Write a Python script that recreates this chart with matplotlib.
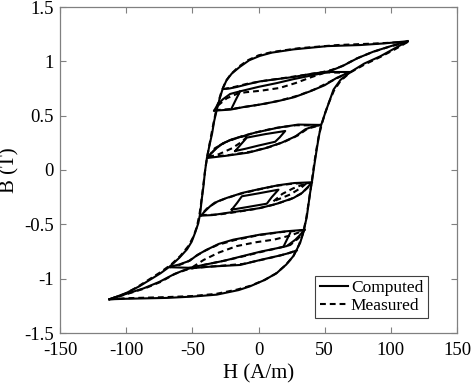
import matplotlib
matplotlib.use('Agg')
import matplotlib.pyplot as plt

plt.rcParams['font.family'] = ['Liberation Serif', 'DejaVu Serif']
plt.rcParams['axes.unicode_minus'] = False

# --- major loop (H in A/m, B in T) ---
major_desc_c = [(112.7, 1.185), (95, 1.165), (77, 1.15), (52, 1.14), (26.5, 1.11), (10, 1.08), (1, 1.05),
                (-7, 1.01), (-14, 0.95), (-20, 0.89), (-24, 0.83), (-27, 0.75), (-29.5, 0.65), (-31.5, 0.555),
                (-33.5, 0.45), (-35, 0.34), (-37, 0.23), (-39, 0.11), (-40.5, -0.02), (-41.6, -0.15),
                (-43, -0.28), (-44, -0.395), (-45.5, -0.49), (-48, -0.58), (-50.5, -0.66), (-54, -0.73),
                (-60, -0.81), (-66.8, -0.886), (-74, -0.95), (-82, -1.01), (-90, -1.07), (-99.6, -1.13),
                (-107, -1.165), (-112.7, -1.19)]
major_asc_c = [(-112.7, -1.19), (-100, -1.185), (-69, -1.177), (-50, -1.165), (-31.5, -1.147), (-15, -1.105),
               (-6.3, -1.07), (5, -1.01), (13.9, -0.947), (21, -0.87), (26.5, -0.79), (31.5, -0.67),
               (34, -0.57), (36.5, -0.43), (39, -0.21), (40.5, -0.10), (42, 0.03), (44, 0.19), (45.5, 0.30),
               (47, 0.40), (50.4, 0.525), (53.5, 0.63), (56.7, 0.74), (62, 0.83), (69.3, 0.90), (80, 0.98),
               (92, 1.046), (103, 1.12), (112.7, 1.185)]

# --- band 1 (B ~ 0.55 .. 0.9) ---
b1_tip_c = [(112.7, 1.185), (100, 1.14), (87, 1.09), (75, 1.03), (64, 0.96), (57, 0.925), (52, 0.905),
            (40, 0.885), (26.5, 0.856), (10, 0.83), (1.3, 0.816), (-8, 0.79), (-16.4, 0.764), (-22, 0.75),
            (-26.5, 0.745)]
b1_flat_c = [(69.3, 0.90), (52, 0.90)]
b1_x_c = [(52, 0.90), (40, 0.87), (26, 0.835), (13.9, 0.80), (0, 0.765), (-13.9, 0.724), (-21.4, 0.70),
          (-27, 0.65), (-31, 0.60), (-33.5, 0.546)]
b1_bottom_c = [(-33.5, 0.546), (-21, 0.556), (-11, 0.58), (0, 0.60), (14, 0.632), (27, 0.67), (39, 0.724),
               (50, 0.78), (59, 0.847), (65, 0.88), (69.3, 0.90)]
b1_diag_c = [(-20.3, 0.568), (-17, 0.65), (-13.9, 0.724)]

# --- band 2 (B ~ 0.1 .. 0.42) ---
b2_top_c = [(46.5, 0.415), (30, 0.418), (15, 0.39), (-2.5, 0.344), (-12, 0.31), (-20.2, 0.282), (-27, 0.245),
            (-32.8, 0.19), (-36, 0.15), (-38.5, 0.111)]
b2_bottom_c = [(-38.5, 0.111), (-25, 0.13), (-7.6, 0.16), (5, 0.2), (17.6, 0.252), (28, 0.31), (35.3, 0.374),
               (41, 0.40), (46.5, 0.415)]
b2_inner_c = [(-17.6, 0.175), (-13, 0.24), (-8.8, 0.298), (5, 0.33), (20.2, 0.359), (16, 0.30), (12.6, 0.26),
              (0, 0.225), (-10, 0.195), (-17.6, 0.175)]

# --- band 3 (B ~ -0.42 .. -0.11) ---
b3_top_c = [(40.3, -0.113), (27, -0.12), (15, -0.14), (1.3, -0.174), (-12, -0.21), (-24, -0.257), (-31, -0.29),
            (-36.6, -0.334), (-40.5, -0.38), (-43.5, -0.42)]
b3_bottom_c = [(-43.5, -0.42), (-35, -0.415), (-24, -0.395), (-12, -0.375), (1.3, -0.35), (14, -0.31),
               (26.5, -0.257), (33, -0.21), (37.8, -0.15), (40.3, -0.113)]
b3_inner_c = [(-20.2, -0.365), (-16, -0.30), (-12.6, -0.242), (0, -0.215), (15.1, -0.181), (10, -0.25),
              (6.3, -0.31), (-8, -0.34), (-20.2, -0.365)]

# --- band 4 (B ~ -0.9 .. -0.55) ---
b4_top_c = [(35, -0.55), (20, -0.565), (1, -0.595), (-19, -0.641), (-30, -0.68), (-39, -0.733), (-46, -0.78),
            (-52, -0.835), (-60, -0.87), (-66.8, -0.89)]
b4_flat_c = [(-66.8, -0.895), (-52, -0.90)]
b4_tip_c = [(-112.7, -1.19), (-100, -1.14), (-87, -1.09), (-75, -1.03), (-64, -0.96), (-57, -0.925),
            (-52, -0.905), (-35, -0.888), (-13.9, -0.874), (1.3, -0.828), (15, -0.79), (23, -0.765),
            (29, -0.74)]
b4_x_c = [(-52, -0.90), (-40, -0.87), (-26, -0.835), (-13.9, -0.798), (1.3, -0.752), (13.9, -0.72),
          (21.4, -0.70), (28, -0.64), (32, -0.59), (34.5, -0.55)]
b4_diag_c = [(18.9, -0.705), (21.5, -0.64), (23.9, -0.58)]

# --- measured ---
major_desc_m = [(113, 1.18), (90, 1.165), (60, 1.15), (30, 1.12), (10, 1.085), (0, 1.055), (-8, 1.01),
                (-15, 0.95), (-21, 0.88), (-25, 0.81), (-28, 0.72), (-30.5, 0.62), (-32.5, 0.52),
                (-34.5, 0.40), (-36.5, 0.27), (-38.5, 0.14), (-40, 0.03), (-41.5, -0.12), (-43, -0.27),
                (-44.5, -0.40), (-46.5, -0.52), (-49, -0.61), (-53, -0.70), (-59, -0.79), (-66, -0.87),
                (-74, -0.94), (-83, -1.01), (-92, -1.08), (-101, -1.14), (-108, -1.17), (-113, -1.19)]
major_asc_m = [(-113, -1.19), (-100, -1.18), (-70, -1.17), (-50, -1.16), (-32, -1.14), (-16, -1.10),
               (-6, -1.065), (4, -1.015), (13, -0.955), (20, -0.88), (26, -0.80), (30.5, -0.69),
               (33.5, -0.59), (36, -0.45), (38.5, -0.25), (40.5, -0.08), (42, 0.05), (43.5, 0.17),
               (45.5, 0.31), (48, 0.43), (50.5, 0.53), (53.5, 0.63), (57, 0.73), (62, 0.82), (69, 0.895),
               (80, 0.97), (92, 1.04), (103, 1.11), (113, 1.18)]
b1_tip_m = [(113, 1.18), (99, 1.135), (86, 1.085), (74, 1.025), (63, 0.955), (55, 0.92), (48, 0.90),
            (35, 0.875), (20, 0.848), (5, 0.822), (-8, 0.795), (-18, 0.765), (-25, 0.748)]
b1_flat_m = [(69, 0.895), (50, 0.898)]
b1_x_m = [(50, 0.895), (40, 0.855), (28, 0.80), (16, 0.755), (2, 0.73), (-10, 0.715), (-16.4, 0.70),
          (-24, 0.66), (-30, 0.60), (-33, 0.55)]
b1_bottom_m = [(-33, 0.55), (-20, 0.562), (-8, 0.585), (5, 0.61), (18, 0.645), (30, 0.685), (42, 0.74),
               (52, 0.80), (61, 0.855), (69, 0.895)]
b2_top_m = [(46, 0.41), (28, 0.412), (12, 0.385), (-4, 0.34), (-14, 0.305), (-22, 0.272), (-29, 0.23),
            (-34, 0.175), (-38, 0.12)]
b2_bottom_m = [(-38, 0.12), (-22, 0.138), (-6, 0.168), (8, 0.21), (20, 0.262), (30, 0.32), (37, 0.38),
               (46, 0.41)]
b2_lens_m = [(-38, 0.12), (-33, 0.2), (-25, 0.255), (-15, 0.3), (-7.6, 0.322), (-12, 0.265), (-20, 0.2),
             (-30, 0.145), (-38, 0.12)]
b3_top_m = [(40, -0.12), (26, -0.125), (12, -0.148), (-2, -0.185), (-14, -0.22), (-25, -0.262), (-33, -0.3),
            (-39, -0.355), (-43.5, -0.415)]
b3_bottom_m = [(-43.5, -0.415), (-30, -0.41), (-16, -0.385), (-2, -0.358), (12, -0.318), (24, -0.27),
               (32, -0.22), (37, -0.165), (40, -0.12)]
b3_lens_m = [(11.3, -0.288), (18, -0.22), (26, -0.17), (36.5, -0.12), (32, -0.165), (24, -0.225),
             (11.3, -0.288)]
b4_top_m = [(35, -0.555), (18, -0.57), (0, -0.6), (-18, -0.645), (-31, -0.69), (-40, -0.74), (-47, -0.79),
            (-53, -0.84), (-60, -0.875), (-67, -0.895)]
b4_tip_m = [(-113, -1.19), (-99, -1.14), (-86, -1.09), (-74, -1.03), (-63, -0.955), (-55, -0.92),
            (-48, -0.9), (-32, -0.885), (-12, -0.865), (3, -0.825), (17, -0.785), (24, -0.76), (29, -0.74)]
b4_x_m = [(-50, -0.895), (-38, -0.865), (-24, -0.83), (-10, -0.79), (4, -0.748), (16, -0.715), (24, -0.69),
          (30, -0.63), (34.5, -0.56)]
b4_lens_m = [(-50, -0.895), (-41.5, -0.828), (-30, -0.76), (-16.4, -0.70), (-2, -0.665), (12, -0.64),
             (25, -0.60), (34.5, -0.555)]

computed = [major_desc_c, major_asc_c, b1_tip_c, b1_flat_c, b1_x_c, b1_bottom_c, b1_diag_c,
            b2_top_c, b2_bottom_c, b2_inner_c, b3_top_c, b3_bottom_c, b3_inner_c,
            b4_top_c, b4_flat_c, b4_tip_c, b4_x_c, b4_diag_c]
measured = [major_desc_m, major_asc_m, b1_tip_m, b1_flat_m, b1_x_m, b1_bottom_m,
            b2_top_m, b2_bottom_m, b2_lens_m, b3_top_m, b3_bottom_m, b3_lens_m,
            b4_top_m, b4_tip_m, b4_x_m, b4_lens_m]

x_ticks = [-150, -100, -50, 0, 50, 100, 150]
y_ticks = [-1.5, -1, -0.5, 0, 0.5, 1, 1.5]
y_tick_labels = ['-1.5', '-1', '-0.5', '0', '0.5', '1', '1.5']

fig = plt.figure(figsize=(4.74, 3.89), dpi=100)
ax = fig.add_axes([60 / 474, 56 / 389, 397 / 474, 326 / 389])

for i, curve in enumerate(computed):
    h, b = zip(*curve)
    ax.plot(h, b, color='black', lw=1.5, solid_joinstyle='round',
            label='Computed' if i == 0 else None)
for i, curve in enumerate(measured):
    h, b = zip(*curve)
    ax.plot(h, b, color='black', lw=1.5, linestyle=(0, (2.8, 1.9)),
            label='Measured' if i == 0 else None)

ax.set_xlim(-150, 150)
ax.set_ylim(-1.5, 1.5)
ax.set_xticks(x_ticks)
ax.set_yticks(y_ticks)
ax.set_yticklabels(y_tick_labels)
ax.tick_params(direction='in', top=True, right=True, length=4, width=0.8, color='#808080',
               labelsize=13.5)
ax.tick_params(axis='x', pad=6.5)
ax.tick_params(axis='y', pad=4.5)
for s in ax.spines.values():
    s.set_color('#808080')
    s.set_linewidth(0.9)

ax.set_xlabel('H (A/m)', fontsize=15, labelpad=4)
ax.set_ylabel('B (T)', fontsize=15, labelpad=3)

leg = ax.legend(loc='lower right', bbox_to_anchor=(0.926, 0.045), borderaxespad=0, fontsize=12.5,
                handlelength=1.65, handletextpad=0.15, labelspacing=0.1, borderpad=0.25,
                fancybox=False, framealpha=1, edgecolor='#404040')
leg.get_frame().set_linewidth(0.8)

fig.savefig('out.png', dpi=100)
